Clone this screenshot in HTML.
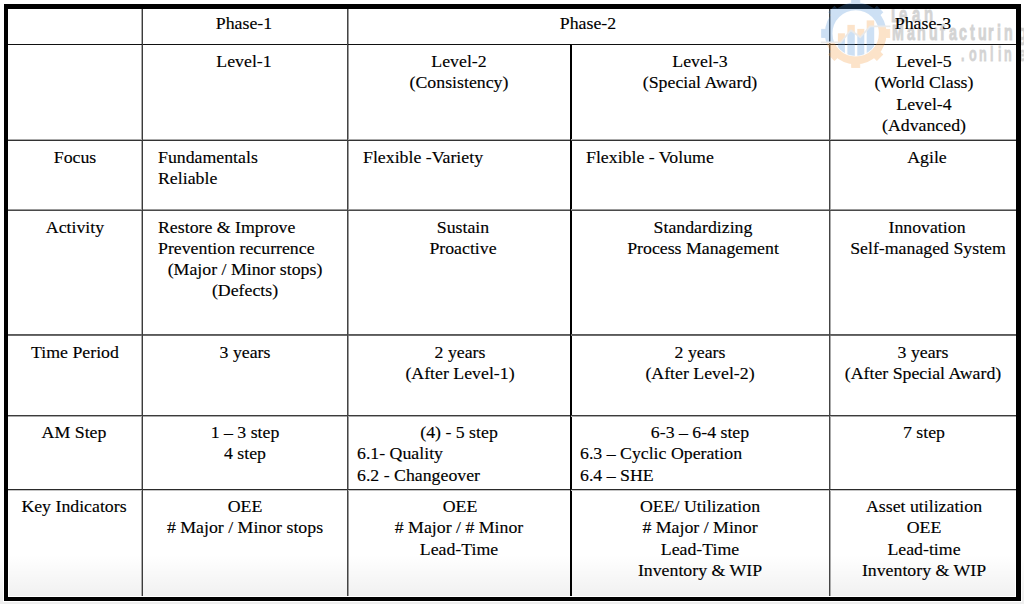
<!DOCTYPE html>
<html><head><meta charset="utf-8"><style>
html,body{margin:0;padding:0;}
body{width:1024px;height:604px;overflow:hidden;position:relative;background:#fff;font-family:"Liberation Serif",serif;color:#000;}
.t{position:absolute;white-space:nowrap;font-size:17.2px;line-height:20px;height:20px;-webkit-text-stroke:0.15px #000;}
.c{width:400px;text-align:center;transform-origin:200px 0;}
.t{transform:scaleX(1.035);transform-origin:0 0;}
.t.c{transform-origin:200px 0;}
.r{position:absolute;}
.wm{position:absolute;font-family:"Liberation Sans",sans-serif;font-weight:bold;color:#000;-webkit-text-stroke:0.9px #000;line-height:1;white-space:nowrap;}
#wmg{position:absolute;left:0;top:0;width:1024px;height:604px;opacity:0.17;}
#grad{position:absolute;left:0;top:0;width:1024px;height:604px;background:linear-gradient(to bottom, rgba(0,0,0,0) 0px, rgba(0,0,0,0) 555px, rgba(0,0,0,0.065) 604px);}
</style></head><body>

<div class="t c" style="left:44px;top:14px">Phase-1</div>
<div class="t c" style="left:388px;top:14px">Phase-2</div>
<div class="t c" style="left:723px;top:14px">Phase-3</div>
<div class="t c" style="left:44px;top:52px">Level-1</div>
<div class="t c" style="left:259px;top:52px">Level-2</div>
<div class="t c" style="left:259px;top:73px">(Consistency)</div>
<div class="t c" style="left:500px;top:52px">Level-3</div>
<div class="t c" style="left:500px;top:73px">(Special Award)</div>
<div class="t c" style="left:724px;top:52px">Level-5</div>
<div class="t c" style="left:724px;top:73px">(World Class)</div>
<div class="t c" style="left:724px;top:95px">Level-4</div>
<div class="t c" style="left:724px;top:116px">(Advanced)</div>
<div class="t c" style="left:-125.5px;top:148px">Focus</div>
<div class="t" style="left:158.2px;top:148px">Fundamentals</div>
<div class="t" style="left:158.2px;top:169px">Reliable</div>
<div class="t" style="left:363.2px;top:148px">Flexible -Variety</div>
<div class="t" style="left:586.2px;top:148px">Flexible - Volume</div>
<div class="t c" style="left:726.5px;top:148px">Agile</div>
<div class="t c" style="left:-125.5px;top:218px">Activity</div>
<div class="t" style="left:158.2px;top:218px">Restore &amp; Improve</div>
<div class="t" style="left:158.2px;top:239px">Prevention recurrence</div>
<div class="t c" style="left:44.5px;top:260px">(Major / Minor stops)</div>
<div class="t c" style="left:44.5px;top:281px">(Defects)</div>
<div class="t c" style="left:262.5px;top:218px">Sustain</div>
<div class="t c" style="left:262.5px;top:239px">Proactive</div>
<div class="t c" style="left:503px;top:218px">Standardizing</div>
<div class="t c" style="left:503px;top:239px">Process Management</div>
<div class="t c" style="left:727px;top:218px">Innovation</div>
<div class="t c" style="left:727.5px;top:239px">Self-managed System</div>
<div class="t c" style="left:-125.3px;top:343px">Time Period</div>
<div class="t c" style="left:44.7px;top:343px">3 years</div>
<div class="t c" style="left:259.5px;top:343px">2 years</div>
<div class="t c" style="left:259.5px;top:364px">(After Level-1)</div>
<div class="t c" style="left:500px;top:343px">2 years</div>
<div class="t c" style="left:500px;top:364px">(After Level-2)</div>
<div class="t c" style="left:722.8px;top:343px">3 years</div>
<div class="t c" style="left:723px;top:364px">(After Special Award)</div>
<div class="t c" style="left:-126px;top:423px">AM Step</div>
<div class="t c" style="left:45px;top:423px">1 &ndash; 3 step</div>
<div class="t c" style="left:45px;top:444px">4 step</div>
<div class="t c" style="left:259px;top:423px">(4) - 5 step</div>
<div class="t" style="left:357.2px;top:444px">6.1- Quality</div>
<div class="t" style="left:357.2px;top:466px">6.2 - Changeover</div>
<div class="t c" style="left:499.6px;top:423px">6-3 &ndash; 6-4 step</div>
<div class="t" style="left:580.3px;top:444px">6.3 &ndash; Cyclic Operation</div>
<div class="t" style="left:580.3px;top:466px">6.4 &ndash; SHE</div>
<div class="t c" style="left:724px;top:423px">7 step</div>
<div class="t c" style="left:-126px;top:497px">Key Indicators</div>
<div class="t c" style="left:44.5px;top:497px">OEE</div>
<div class="t c" style="left:44.5px;top:518px"># Major / Minor stops</div>
<div class="t c" style="left:260px;top:497px">OEE</div>
<div class="t c" style="left:259px;top:518px"># Major / # Minor</div>
<div class="t c" style="left:259px;top:540px">Lead-Time</div>
<div class="t c" style="left:500px;top:497px">OEE/ Utilization</div>
<div class="t c" style="left:500px;top:518px"># Major / Minor</div>
<div class="t c" style="left:500px;top:540px">Lead-Time</div>
<div class="t c" style="left:500px;top:561px">Inventory &amp; WIP</div>
<div class="t c" style="left:724px;top:497px">Asset utilization</div>
<div class="t c" style="left:724px;top:518px">OEE</div>
<div class="t c" style="left:724px;top:540px">Lead-time</div>
<div class="t c" style="left:724px;top:561px">Inventory &amp; WIP</div>
<div id="grad"></div>
<div class="r" style="left:141px;top:9px;width:1px;height:588px;background:#aaa"></div>
<div class="r" style="left:348px;top:9px;width:1px;height:588px;background:#9a9a9a"></div>
<div class="r" style="left:571px;top:44px;width:1px;height:553px;background:#000"></div>
<div class="r" style="left:830px;top:9px;width:1px;height:588px;background:#aaa"></div>
<div class="r" style="left:8px;top:139px;width:1008px;height:1px;background:#aaa"></div>
<div class="r" style="left:8px;top:209px;width:1008px;height:1px;background:#999"></div>
<div class="r" style="left:8px;top:335px;width:1008px;height:1px;background:#6a6a6a"></div>
<div class="r" style="left:8px;top:416px;width:1008px;height:1px;background:#aaa"></div>
<div class="r" style="left:8px;top:490px;width:1008px;height:1px;background:#c4c4c4"></div>
<div class="r" style="left:8px;top:44px;width:1008px;height:1px;background:#111"></div>
<div class="r" style="left:8px;top:140px;width:1008px;height:1px;background:#333"></div>
<div class="r" style="left:8px;top:210px;width:1008px;height:1px;background:#4a4a4a"></div>
<div class="r" style="left:8px;top:334px;width:1008px;height:1px;background:#5a5a5a"></div>
<div class="r" style="left:8px;top:415px;width:1008px;height:1px;background:#3c3c3c"></div>
<div class="r" style="left:8px;top:489px;width:1008px;height:1px;background:#2a2a2a"></div>
<div class="r" style="left:142px;top:9px;width:1px;height:588px;background:#3c3c3c"></div>
<div class="r" style="left:347px;top:9px;width:1px;height:588px;background:#444"></div>
<div class="r" style="left:570px;top:44px;width:1px;height:553px;background:#000"></div>
<div class="r" style="left:829px;top:9px;width:1px;height:588px;background:#444"></div>
<div class="r" style="left:4px;top:4px;width:1017px;height:5px;background:#000"></div>
<div class="r" style="left:4px;top:597px;width:1017px;height:4px;background:#000"></div>
<div class="r" style="left:4px;top:4px;width:4px;height:597px;background:#000"></div>
<div class="r" style="left:1016px;top:4px;width:5px;height:597px;background:#000"></div>
<div class="r" style="left:8px;top:555px;width:1px;height:42px;background:#fff"></div>
<div class="r" style="left:1015px;top:555px;width:1px;height:42px;background:#fff"></div>
<div class="r" style="left:8px;top:596px;width:1008px;height:1px;background:#fff"></div>
<div class="r" style="left:3px;top:555px;width:1px;height:47px;background:#fff"></div>
<div class="r" style="left:1021px;top:555px;width:1px;height:47px;background:#fff"></div>
<div class="r" style="left:3px;top:601px;width:1019px;height:1px;background:#fff"></div>
<svg style="position:absolute;left:0;top:0" width="1024" height="604" viewBox="0 0 1024 604"><defs><clipPath id="ab"><path d="M790,-20 L790,42.3 L820.8,42.3 L840.9,42.3 L850.8,30.3 L860.3,37.3 L870.2,26.4 L890.4,26.4 L920,26.4 L920,-20 Z"/></clipPath><clipPath id="be"><path d="M790,80 L790,42.3 L820.8,42.3 L840.9,42.3 L850.8,30.3 L860.3,37.3 L870.2,26.4 L890.4,26.4 L920,26.4 L920,80 Z"/></clipPath><clipPath id="ci"><circle cx="855.70" cy="33.40" r="22.5"/></clipPath></defs><g opacity="0.27"><g clip-path="url(#ab)" fill="#4a90d9" stroke="#4a90d9"><circle cx="855.70" cy="33.40" r="27" fill="none" stroke-width="7.6"/><rect x="851.70" y="-0.60" width="8" height="9" transform="rotate(0 855.70 33.40)"/><rect x="851.70" y="-0.60" width="8" height="9" transform="rotate(45 855.70 33.40)"/><rect x="851.70" y="-0.60" width="8" height="9" transform="rotate(90 855.70 33.40)"/><rect x="851.70" y="-0.60" width="8" height="9" transform="rotate(135 855.70 33.40)"/><rect x="851.70" y="-0.60" width="8" height="9" transform="rotate(180 855.70 33.40)"/><rect x="851.70" y="-0.60" width="8" height="9" transform="rotate(225 855.70 33.40)"/><rect x="851.70" y="-0.60" width="8" height="9" transform="rotate(270 855.70 33.40)"/><rect x="851.70" y="-0.60" width="8" height="9" transform="rotate(315 855.70 33.40)"/></g><g clip-path="url(#be)" fill="#f59a3c" stroke="#f59a3c"><circle cx="855.70" cy="33.40" r="27" fill="none" stroke-width="7.6"/><rect x="851.70" y="-0.60" width="8" height="9" transform="rotate(0 855.70 33.40)"/><rect x="851.70" y="-0.60" width="8" height="9" transform="rotate(45 855.70 33.40)"/><rect x="851.70" y="-0.60" width="8" height="9" transform="rotate(90 855.70 33.40)"/><rect x="851.70" y="-0.60" width="8" height="9" transform="rotate(135 855.70 33.40)"/><rect x="851.70" y="-0.60" width="8" height="9" transform="rotate(180 855.70 33.40)"/><rect x="851.70" y="-0.60" width="8" height="9" transform="rotate(225 855.70 33.40)"/><rect x="851.70" y="-0.60" width="8" height="9" transform="rotate(270 855.70 33.40)"/><rect x="851.70" y="-0.60" width="8" height="9" transform="rotate(315 855.70 33.40)"/></g><g clip-path="url(#ci)"><g clip-path="url(#ab)" fill="#f59a3c"><rect x="837.9" y="33.3" width="7.0" height="22.0"/><rect x="847.4" y="24.9" width="7.4" height="31.0"/><rect x="857.3" y="28.9" width="7.0" height="27.0"/><rect x="866.7" y="20.4" width="7.5" height="33.0"/></g><g clip-path="url(#be)" fill="#4a90d9"><rect x="837.9" y="33.3" width="7.0" height="22.0"/><rect x="847.4" y="24.9" width="7.4" height="31.0"/><rect x="857.3" y="28.9" width="7.0" height="27.0"/><rect x="866.7" y="20.4" width="7.5" height="33.0"/></g></g></g><polyline points="820.8,42.3 840.9,42.3 850.8,30.3 860.3,37.3 870.2,26.4 890.4,26.4" fill="none" stroke="#e9e9e9" stroke-width="1.7" stroke-linejoin="round"/></svg>
<div id="wmg"><div class="wm" style="left:891.43px;top:4.18px;font-size:22px;transform:scale(0.68,1.0);transform-origin:0 18.62px;">L</div><div class="wm" style="left:898.90px;top:4.18px;font-size:22px;transform:scale(0.68,1.0);transform-origin:0 18.62px;">e</div><div class="wm" style="left:911.95px;top:4.18px;font-size:22px;transform:scale(0.68,1.0);transform-origin:0 18.62px;">a</div><div class="wm" style="left:923.73px;top:4.18px;font-size:22px;transform:scale(0.68,1.0);transform-origin:0 18.62px;">n</div><div class="wm" style="left:891.57px;top:25.14px;font-size:18.5px;transform:scale(0.77,1.2);transform-origin:0 15.66px;">M</div><div class="wm" style="left:907.37px;top:25.14px;font-size:18.5px;transform:scale(0.77,1.2);transform-origin:0 15.66px;">a</div><div class="wm" style="left:917.07px;top:25.14px;font-size:18.5px;transform:scale(0.77,1.2);transform-origin:0 15.66px;">n</div><div class="wm" style="left:928.75px;top:25.14px;font-size:18.5px;transform:scale(0.77,1.2);transform-origin:0 15.66px;">u</div><div class="wm" style="left:940.19px;top:25.14px;font-size:18.5px;transform:scale(0.77,1.2);transform-origin:0 15.66px;">f</div><div class="wm" style="left:948.77px;top:25.14px;font-size:18.5px;transform:scale(0.77,1.2);transform-origin:0 15.66px;">a</div><div class="wm" style="left:958.93px;top:25.14px;font-size:18.5px;transform:scale(0.77,1.2);transform-origin:0 15.66px;">c</div><div class="wm" style="left:969.56px;top:25.14px;font-size:18.5px;transform:scale(0.77,1.2);transform-origin:0 15.66px;">t</div><div class="wm" style="left:977.95px;top:25.14px;font-size:18.5px;transform:scale(0.77,1.2);transform-origin:0 15.66px;">u</div><div class="wm" style="left:988.17px;top:25.14px;font-size:18.5px;transform:scale(0.77,1.2);transform-origin:0 15.66px;">r</div><div class="wm" style="left:997.20px;top:25.14px;font-size:18.5px;transform:scale(0.77,1.2);transform-origin:0 15.66px;">i</div><div class="wm" style="left:1003.57px;top:25.14px;font-size:18.5px;transform:scale(0.77,1.2);transform-origin:0 15.66px;">n</div><div class="wm" style="left:1017.93px;top:25.14px;font-size:18.5px;transform:scale(0.77,1.2);transform-origin:0 15.66px;">g</div><div class="wm" style="left:961.22px;top:43.42px;font-size:21px;transform:scale(0.6,1.0);transform-origin:0 17.78px;">.</div><div class="wm" style="left:968.70px;top:43.42px;font-size:21px;transform:scale(0.6,1.0);transform-origin:0 17.78px;">o</div><div class="wm" style="left:979.08px;top:43.42px;font-size:21px;transform:scale(0.6,1.0);transform-origin:0 17.78px;">n</div><div class="wm" style="left:990.12px;top:43.42px;font-size:21px;transform:scale(0.6,1.0);transform-origin:0 17.78px;">l</div><div class="wm" style="left:997.62px;top:43.42px;font-size:21px;transform:scale(0.6,1.0);transform-origin:0 17.78px;">i</div><div class="wm" style="left:1004.38px;top:43.42px;font-size:21px;transform:scale(0.6,1.0);transform-origin:0 17.78px;">n</div><div class="wm" style="left:1018.50px;top:43.42px;font-size:21px;transform:scale(0.6,1.0);transform-origin:0 17.78px;">e</div></div>
</body></html>
